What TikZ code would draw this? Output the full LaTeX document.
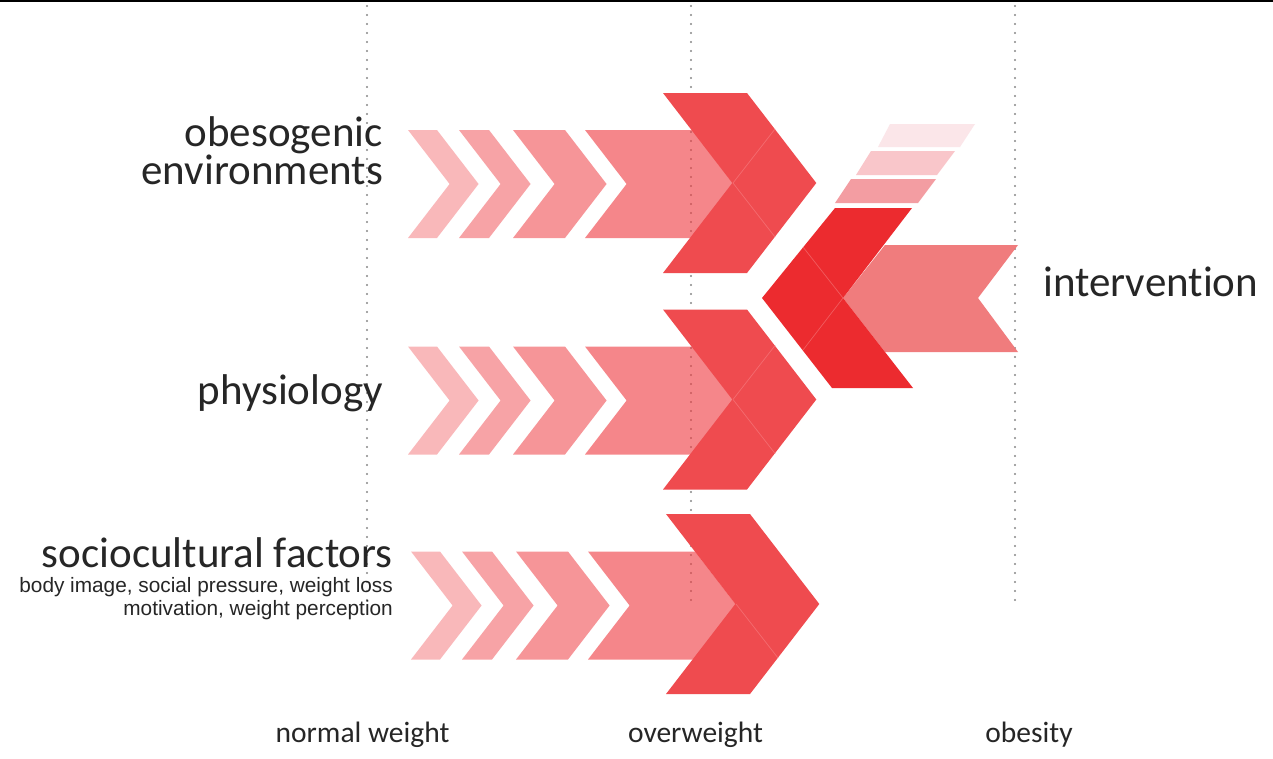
\documentclass[tikz,border=0pt]{standalone}
\usepackage{fontspec}
\setmainfont{Carlito}[Ligatures={NoCommon}]
\newfontfamily\arialf{Liberation Sans}
\definecolor{basered}{RGB}{240,60,66}
\definecolor{bigred}{RGB}{239,75,79}
\definecolor{seamred}{RGB}{244,108,112}
\definecolor{intred}{RGB}{236,43,47}
\definecolor{intseam}{RGB}{241,92,95}
\definecolor{salmon}{RGB}{240,117,119}
\definecolor{stripeA}{RGB}{243,157,162}
\definecolor{stripeB}{RGB}{249,198,202}
\definecolor{stripeC}{RGB}{251,230,233}
\definecolor{txt}{RGB}{38,38,38}
\definecolor{dotgray}{RGB}{135,135,135}
\tikzset{
  pinkA/.style={fill=basered,fill opacity=0.36},
  pinkB/.style={fill=basered,fill opacity=0.47},
  pinkC/.style={fill=basered,fill opacity=0.54},
  pinkD/.style={fill=basered,fill opacity=0.615},
  bigchev/.style={fill=bigred},
  seam/.style={draw=seamred,line width=0.7pt},
  dotline/.style={draw=dotgray,line width=2.2pt,line cap=round,dash pattern=on 0pt off 9pt},
  biglabel/.style={inner sep=0pt,text=txt,font=\fontsize{43}{35}\selectfont},
  axislabel/.style={inner sep=0pt,text=txt,font=\fontsize{29.5}{29.5}\selectfont,anchor=base},
  smalllabel/.style={inner sep=0pt,text=txt,font=\arialf\fontsize{20.8}{20.8}\selectfont,anchor=base east}
}
% chevron: left x, right x, centre y, half height, style
\newcommand{\mychev}[5]{%
  \fill[#5] (#1,#3-#4) -- (#2,#3-#4) -- (#2+0.77*#4,#3) -- (#2,#3+#4) -- (#1,#3+#4) -- (#1+0.77*#4,#3) -- cycle;}
\newcommand{\myrow}[3]{% x shift, small centre, big centre
  \mychev{408+#1}{437+#1}{#2}{54}{pinkA}
  \mychev{459+#1}{489+#1}{#2}{54}{pinkB}
  \mychev{513+#1}{565+#1}{#2}{54}{pinkC}
  \mychev{585+#1}{692+#1}{#2}{54}{pinkD}
  \mychev{663+#1}{747+#1}{#3}{90}{bigchev}
}
\begin{document}
\begin{tikzpicture}[x=1pt,y=-1pt]
\useasboundingbox (0,0) rectangle (1273,758);
\fill[white] (0,0) rectangle (1273,758);
\fill[black] (0,0) rectangle (1273,2);

% dotted guide lines
\coordinate (g1t) at (367,6);   \coordinate (g1b) at (367,605);
\coordinate (g2t) at (691,6);   \coordinate (g2b) at (691,605);
\coordinate (g3t) at (1015,6);  \coordinate (g3b) at (1015,605);
\draw[dotline] (g1t) -- (g1b);
\draw[dotline] (g2t) -- (g2b);
\draw[dotline] (g3t) -- (g3b);

% three rows of chevrons
\myrow{0}{184}{183}
\draw[seam] (733,183) -- (775,129);
\draw[seam] (733,183) -- (775,237);
\myrow{0}{400.5}{399.5}
\draw[seam] (733,399.5) -- (775,345.5);
\draw[seam] (733,399.5) -- (775,453.5);
\myrow{3}{605.5}{604}
\draw[seam] (736,604) -- (778,658);

% intervention
\fill[salmon,fill opacity=0.95] (885,245) -- (1018,245) -- (978,298) -- (1018,352) -- (885,352) -- (843,298) -- cycle;
\fill[intred] (835,208) -- (912,208) -- (843,298) -- (913,388) -- (832,388) -- (762,298) -- cycle;
\draw[draw=intseam,line width=0.7pt] (843,298) -- (803,247);
\draw[draw=intseam,line width=0.7pt] (843,298) -- (803,350);
\fill[stripeA] (835,203) -- (918,203) -- (936,179) -- (851,179) -- cycle;
\fill[stripeB] (856,175) -- (937,175) -- (955,151) -- (871,151) -- cycle;
\fill[stripeC] (878,147) -- (960,147) -- (975,124) -- (890,124) -- cycle;

% labels
\node[biglabel,align=right,anchor=base east] (obes) at (383,184) {obesogenic\\environments};
\node[biglabel,anchor=base east] (phys) at (383,404) {physiology};
\node[biglabel,anchor=base east] (socio) at (393,567) {sociocultural factors};
\node[smalllabel] (sub1) at (393,592) {body image, social pressure, weight loss};
\node[smalllabel] (sub2) at (393,615) {motivation, weight perception};
\node[biglabel,anchor=base west] (interv) at (1043,296) {intervention};
\node[axislabel] (nw) at (362.5,742) {normal weight};
\node[axislabel] (ow) at (695.5,742) {overweight};
\node[axislabel] (ob) at (1029,742) {obesity};
\end{tikzpicture}
\end{document}
